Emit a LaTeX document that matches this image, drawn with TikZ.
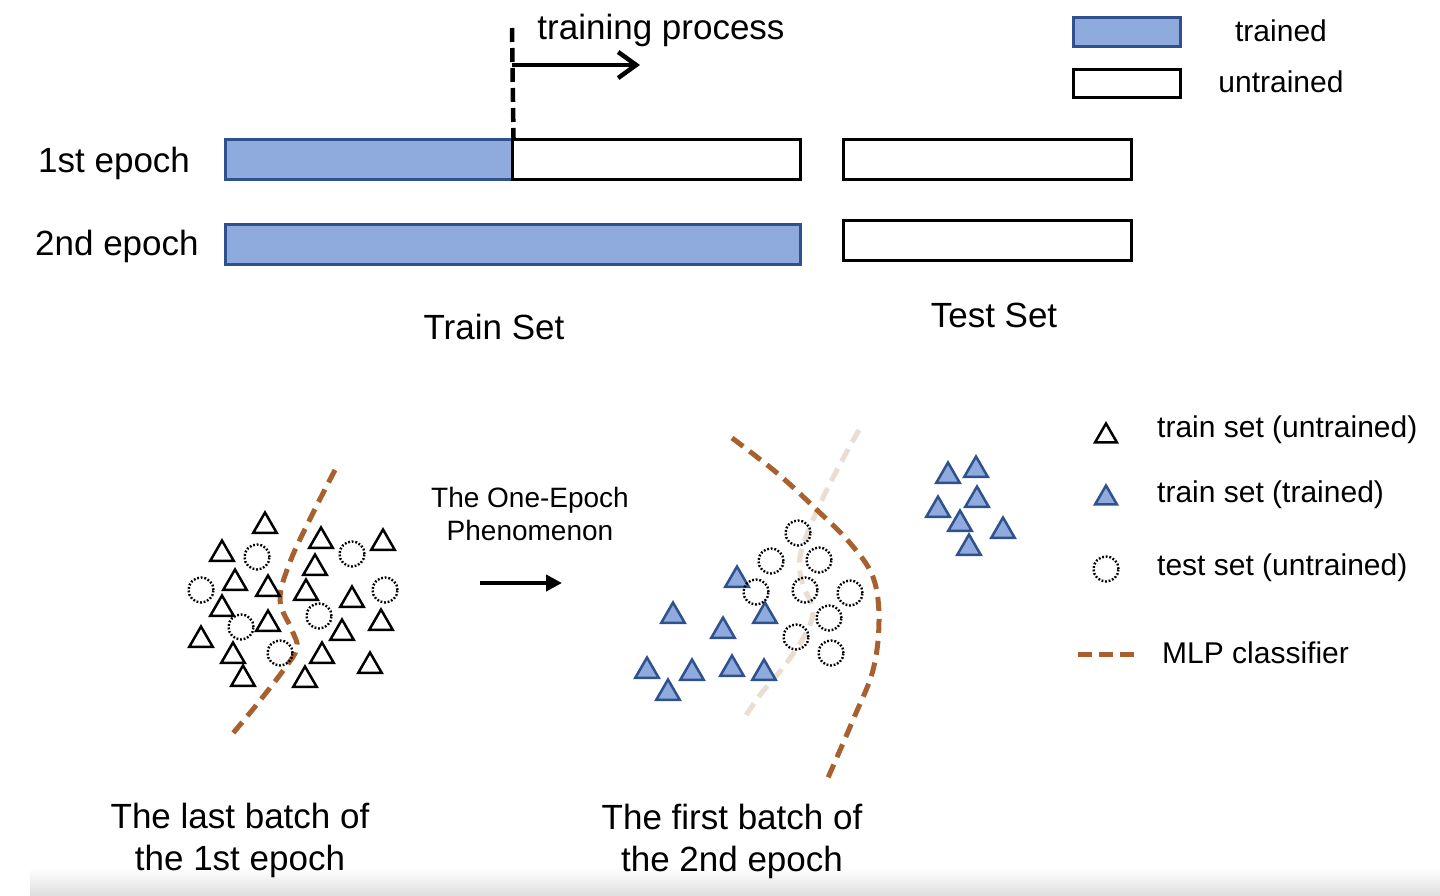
\documentclass[tikz,border=0pt]{standalone}
\usepackage{fontspec}
\setmainfont{Liberation Sans}
\usetikzlibrary{arrows.meta,shapes.geometric}

\definecolor{barblue}{HTML}{8FAADC}
\definecolor{bardark}{HTML}{2F528F}
\definecolor{mlpbrown}{HTML}{A8602E}
\definecolor{oldmlp}{HTML}{EADDD2}

\tikzstyle{trainedbar}=[draw=bardark, fill=barblue, line width=3pt, inner sep=0pt]
\tikzstyle{untrainedbar}=[draw=black, fill=white, line width=3pt, inner sep=0pt]
\tikzstyle{bigtext}=[font=\fontsize{35}{42}\selectfont, inner sep=0pt, anchor=base, align=center]
\tikzstyle{smalltext}=[font=\fontsize{30}{36}\selectfont, inner sep=0pt, anchor=base west]
\tikzstyle{trainpt}=[regular polygon, regular polygon sides=3, draw=black, line width=2.5pt, minimum size=27pt, inner sep=0pt]
\tikzstyle{trainedpt}=[trainpt, draw=bardark, fill=barblue]
\tikzstyle{testpt}=[circle, draw=black, dash pattern=on 1.8pt off 1.8pt, line width=2.4pt, minimum size=25pt, inner sep=0pt]
\tikzstyle{mlp}=[draw=mlpbrown, line width=5pt, dash pattern=on 14pt off 8pt]
\tikzstyle{oldmlpline}=[mlp, draw=oldmlp]

\begin{document}
\begin{tikzpicture}[x=1pt, y=-1pt]

    \useasboundingbox (0,0) rectangle (1440,896);
    \shade[top color=white, bottom color=black!13] (30,868) rectangle (1440,896);

    % bars of the two epochs
    \foreach \x/\y/\w/\h/\name/\sty in {368.5/159.5/287/40/tra/trainedbar, 656/159.5/288/40/trb/untrainedbar,
                                       512.5/244.5/575/40/trc/trainedbar, 987.5/159.5/288/40/tsa/untrainedbar,
                                       987.5/240.5/288/40/tsb/untrainedbar}
        \node[\sty, minimum width=\w pt, minimum height=\h pt] (\name) at (\x,\y) {};

    \node[bigtext, anchor=base west] (ep1) at (38,173) {1st epoch};
    \node[bigtext, anchor=base west] (ep2) at (35,255) {2nd epoch};
    \node[bigtext] (trainset) at (494,339) {Train Set};
    \node[bigtext] (testset) at (994,327) {Test Set};

    % training process marker
    \coordinate (cut) at (512,28);
    \coordinate (arrs) at (512,65);
    \coordinate (arre) at (640,65);
    \draw[line width=4.5pt, dash pattern=on 14pt off 6pt] (cut) -- (tra.north east);
    \draw[line width=4.5pt, -{Straight Barb[length=18pt, width=26pt]}] (arrs) -- (arre);
    \node[bigtext] (process) at (661,40) {training process};

    % legend of the bars
    \node[trainedbar, minimum width=107pt, minimum height=29pt] (keyt) at (1126.5,32.5) {};
    \node[untrainedbar, minimum width=107pt, minimum height=28pt] (keyu) at (1126.5,83.5) {};
    \node[smalltext, anchor=base] (keyttext) at (1281,42) {trained};
    \node[smalltext, anchor=base] (keyutext) at (1281,93) {untrained};

    % last batch of the 1st epoch
    \draw[mlp] plot[smooth, tension=0.6] coordinates {(335,470) (312,515) (290,562) (280,600) (292,630) (297,648) (285,668) (258,703) (229,738)};
    \foreach \x/\y [count=\i] in {265/526, 321/541, 383/543, 222/554, 315/568, 235/583, 268/589, 306/593, 352/600, 222/609,
                                 268/624, 381/623, 342/633, 201/640, 233/656, 322/656, 243/679, 305/680, 370/666}
        \node[trainpt] (lt\i) at (\x,\y) {};
    \foreach \x/\y [count=\i] in {257/557, 352/554, 201/590, 385/590, 319/616, 241/627, 280/653}
        \node[testpt] (lc\i) at (\x,\y) {};

    \node[bigtext] (lastcap) at (240,870) {The last batch of\\the 1st epoch};

    % the phenomenon
    \node[font=\fontsize{28}{33}\selectfont, inner sep=0pt, anchor=base, align=center] (phen) at (530,540) {The One-Epoch\\Phenomenon};
    \coordinate (pa) at (480,583);
    \coordinate (pb) at (562,583);
    \draw[line width=4pt, -{Triangle[length=16pt, width=16pt]}] (pa) -- (pb);

    % first batch of the 2nd epoch
    \draw[oldmlpline] plot[smooth, tension=0.6] coordinates {(859,430) (837,470) (815,515) (800,557) (803,585) (813,610) (805,635) (785,665) (760,695) (743,720)};
    \draw[mlp] plot[smooth, tension=0.6] coordinates {(732,438) (777,473) (817,510) (850,543) (873,577) (879,620) (873,670) (853,720) (827,780)};
    \foreach \x/\y [count=\i] in {737/580, 673/616, 765/616, 723/631, 647/671, 692/673, 732/669, 764/673, 668/693,
                                 948/476, 976/470, 938/510, 977/500, 960/524, 1003/531, 969/548}
        \node[trainedpt] (rt\i) at (\x,\y) {};
    \foreach \x/\y [count=\i] in {798/533, 771/561, 819/560, 756/592, 805/590, 850/593, 829/618, 796/637, 831/653}
        \node[testpt] (rc\i) at (\x,\y) {};

    \node[bigtext] (firstcap) at (732,871) {The first batch of\\the 2nd epoch};

    % legend of the points
    \node[trainpt, minimum size=25pt] (keyl1) at (1106,436) {};
    \node[trainedpt, minimum size=25pt] (keyl2) at (1106,498) {};
    \node[testpt] (keyl3) at (1106,569) {};
    \coordinate (keyma) at (1078,654);
    \coordinate (keymb) at (1134,654);
    \draw[mlp, dash pattern=on 14pt off 7pt] (keyma) -- (keymb);
    \node[smalltext] (keyl1text) at (1157,437) {train set (untrained)};
    \node[smalltext] (keyl2text) at (1157,502) {train set (trained)};
    \node[smalltext] (keyl3text) at (1157,575) {test set (untrained)};
    \node[smalltext] (keymtext) at (1162,663) {MLP classifier};

\end{tikzpicture}
\end{document}
